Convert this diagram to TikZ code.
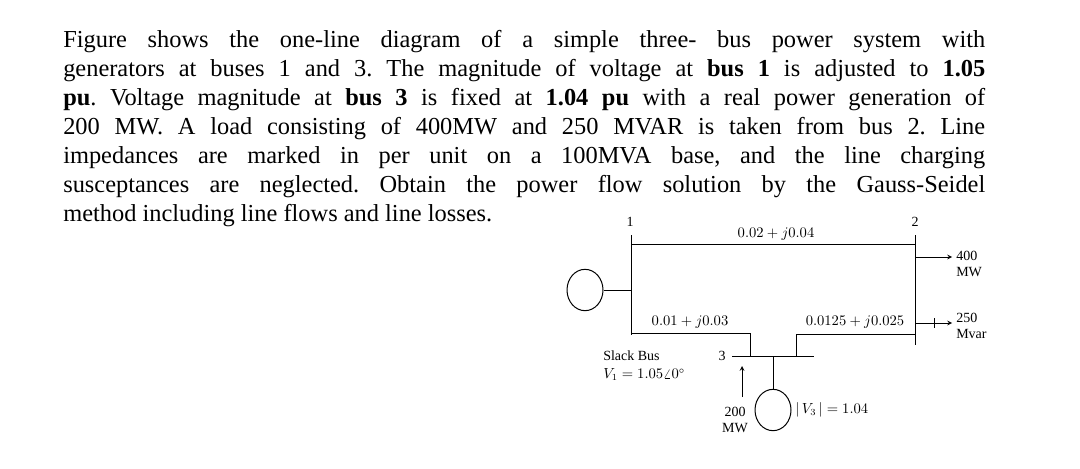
\documentclass[tikz,border=0pt]{standalone}
\usepackage{fontspec}
\setmainfont{Liberation Serif}
\usetikzlibrary{shapes.geometric}
\frenchspacing
\begin{document}
\begin{tikzpicture}[x=0.75pt,y=-0.75pt,
  ln/.style={line width=0.75pt},
  lbl/.style={font=\fontsize{10.5}{11.5}\selectfont, inner sep=0pt, align=left},
  gen/.style={draw, line width=0.75pt, ellipse, minimum width=27pt, minimum height=31pt, inner sep=0pt},
  arr/.style={-stealth, line width=0.6pt}]
\useasboundingbox (0,0) rectangle (1080,468);
\node[anchor=north west, inner sep=0pt, text width=691.5pt, align=justify,
  font=\fontsize{18.3}{21.75}\selectfont] (txt) at (63,30)
{Figure shows the one-line diagram of a simple three- bus power system with\linebreak
generators at buses 1 and 3. The magnitude of voltage at \textbf{bus 1} is adjusted to \textbf{1.05}\linebreak
\textbf{pu}. Voltage magnitude at \textbf{bus 3} is fixed at \textbf{1.04 pu} with a real power generation of\linebreak
200 MW. A load consisting of 400MW and 250 MVAR is taken from bus 2. Line\linebreak
impedances are marked in per unit on a 100MVA base, and the line charging\linebreak
susceptances are neglected. Obtain the power flow solution by the Gauss-Seidel\linebreak
method including line flows and line losses.\par};
% buses
\coordinate (b1t) at (631,235); \coordinate (b1b) at (631,335);
\coordinate (b2t) at (915,235); \coordinate (b2b) at (915,345);
\coordinate (b3l) at (732,356); \coordinate (b3r) at (814,356);
\draw[ln] (b1t) -- (b1b);
\draw[ln] (b2t) -- (b2b);
\draw[ln] (b3l) -- (b3r);
% lines
\coordinate (l12a) at (631,244); \coordinate (l12b) at (915,244);
\draw[ln] (l12a) -- (l12b);
\coordinate (l13a) at (631,333); \coordinate (l13b) at (750,356);
\draw[ln] (l13a) -| (l13b);
\coordinate (l23a) at (915,334); \coordinate (l23b) at (796,356);
\draw[ln] (l23a) -| (l23b);
% generators
\node[gen] (g1) at (585,290) {};
\coordinate (g1c) at (631,290);
\draw[ln] (g1.east) -- (g1c);
\node[gen] (g3) at (773,410) {};
\coordinate (g3c) at (773,356);
\draw[ln] (g3c) -- (g3.north);
% arrows
\coordinate (p3a) at (742,397); \coordinate (p3b) at (742,366);
\draw[arr] (p3a) -- (p3b);
\coordinate (la) at (915,257); \coordinate (lb) at (952,257);
\draw[arr] (la) -- (lb);
\coordinate (qa) at (915,323); \coordinate (qb) at (952,323);
\draw[arr] (qa) -- (qb);
\coordinate (qt1) at (934,318); \coordinate (qt2) at (934,328);
\draw[line width=0.6pt] (qt1) -- (qt2);
% labels
\node[lbl] (n1) at (630,222) {1};
\node[lbl] (n2) at (915,222) {2};
\node[lbl] (z12) at (776,234) {$0.02 + j0.04$};
\node[lbl, anchor=west] (ld1) at (956,264) {400\\MW};
\node[lbl, anchor=west] (ld2) at (956,326) {250\\Mvar};
\node[lbl] (z13) at (690,322) {$0.01 + j0.03$};
\node[lbl] (z23) at (855,322) {$0.0125 + j0.025$};
\node[lbl, anchor=west] (sl) at (603,366) {Slack Bus\\[2pt]$V_1 = 1.05\angle 0^\circ$};
\node[lbl] (n3) at (722,356) {3};
\node[lbl, align=center] (pg) at (735,420) {200\\MW};
\node[lbl, anchor=west] (v3) at (795,410) {$|\,V_3\,| = 1.04$};
\end{tikzpicture}
\end{document}
